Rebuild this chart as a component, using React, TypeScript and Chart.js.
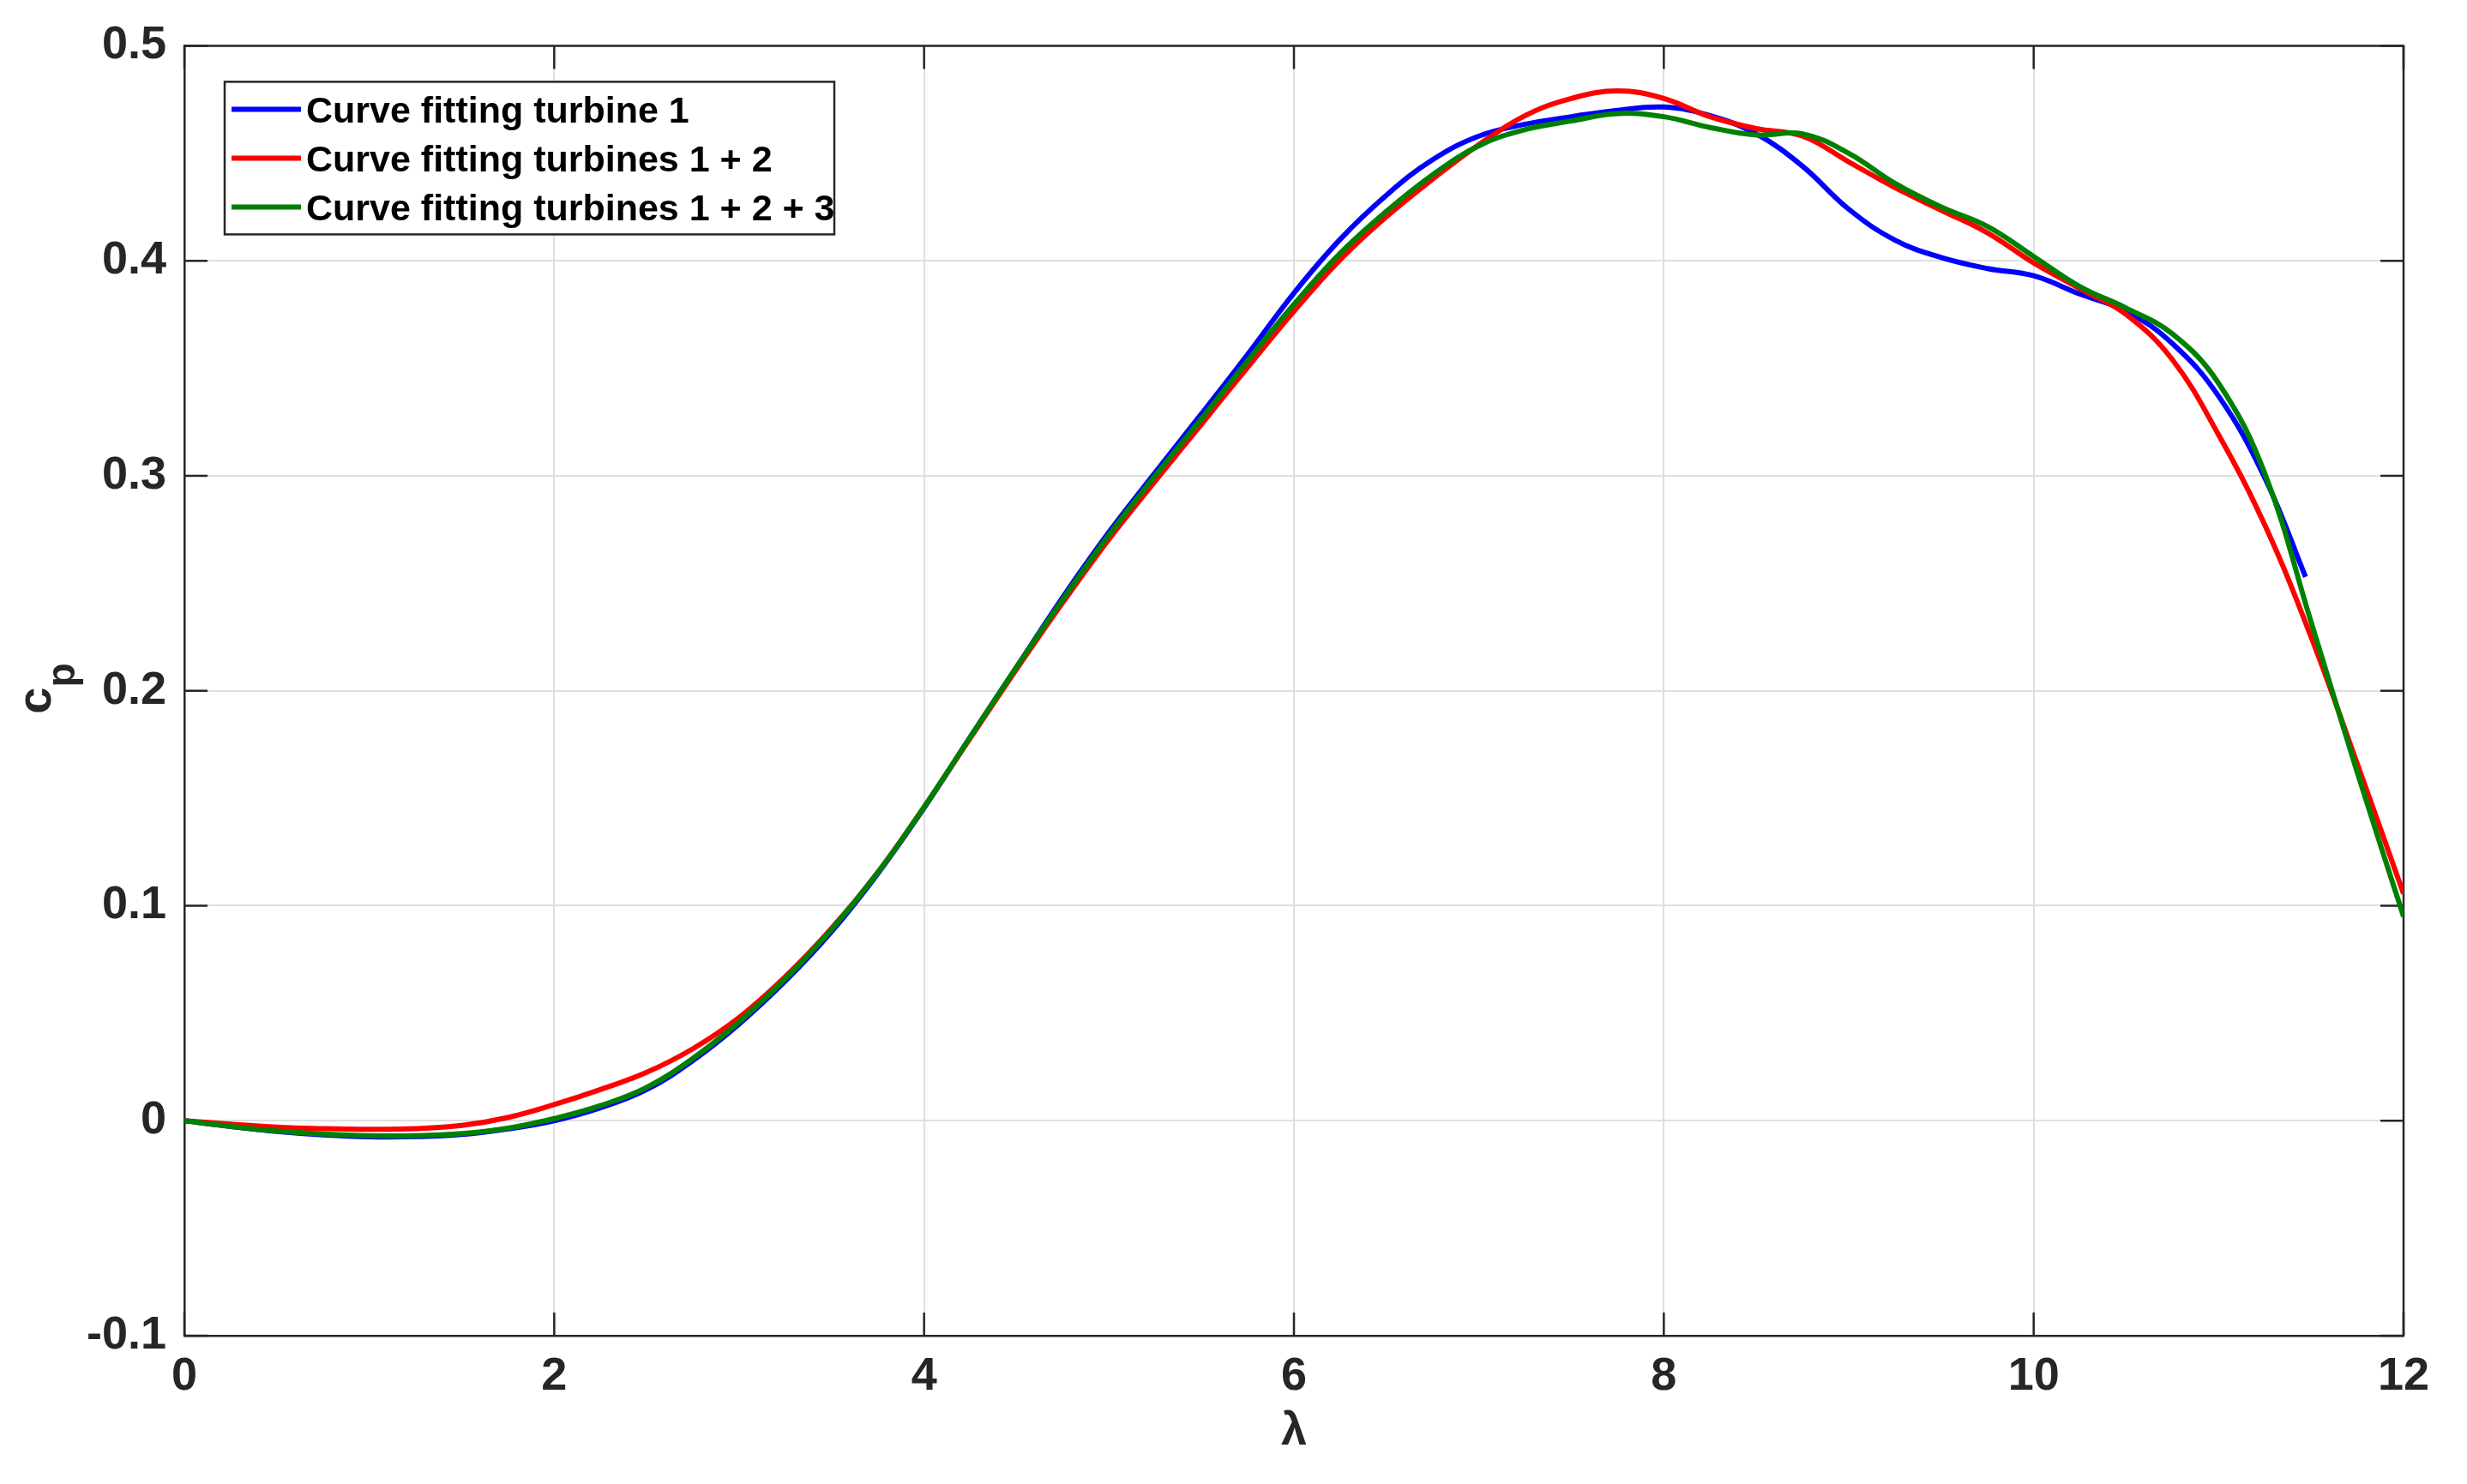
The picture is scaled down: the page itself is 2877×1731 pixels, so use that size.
import React, { useEffect, useRef } from "react";
import { Chart, registerables } from "chart.js";

Chart.register(...registerables);

// ---- data ----
const lambdaTicks = [0, 2, 4, 6, 8, 10, 12];
const cpTicks = [-0.1, 0, 0.1, 0.2, 0.3, 0.4, 0.5];

const seriesLabels = [
  "Curve fitting turbine 1",
  "Curve fitting turbines 1 + 2",
  "Curve fitting turbines 1 + 2 + 3",
];
const seriesColors = ["#0000ff", "#ff0000", "#008000"];

const lambda1 = [0, 0.25, 0.5, 0.75, 1, 1.25, 1.5, 1.75, 2, 2.25, 2.5, 2.75, 3, 3.25, 3.5, 3.75, 4, 4.25, 4.5, 4.75, 5, 5.25, 5.5, 5.75, 6, 6.25, 6.5, 6.75, 7, 7.25, 7.5, 7.75, 8, 8.25, 8.5, 8.75, 9, 9.25, 9.5, 9.75, 10, 10.25, 10.5, 10.75, 11, 11.25, 11.47];
const cp1 = [0, -0.0027, -0.005, -0.0066, -0.0075, -0.0074, -0.0064, -0.0038, 0.0, 0.006, 0.0145, 0.028, 0.045, 0.065, 0.088, 0.115, 0.1455, 0.1785, 0.211, 0.2435, 0.2738, 0.3015, 0.3288, 0.3565, 0.385, 0.41, 0.4305, 0.447, 0.458, 0.4635, 0.467, 0.47, 0.4715, 0.4675, 0.459, 0.444, 0.424, 0.4096, 0.4015, 0.3964, 0.393, 0.3845, 0.3765, 0.3615, 0.337, 0.299, 0.253];

const lambda12 = [0, 0.25, 0.5, 0.75, 1, 1.25, 1.5, 1.75, 2, 2.25, 2.5, 2.75, 3, 3.25, 3.5, 3.75, 4, 4.25, 4.5, 4.75, 5, 5.25, 5.5, 5.75, 6, 6.25, 6.5, 6.75, 7, 7.25, 7.5, 7.75, 8, 8.25, 8.5, 8.75, 9, 9.25, 9.5, 9.75, 10, 10.25, 10.5, 10.75, 11, 11.25, 11.5, 11.75, 12];
const cp12 = [0, -0.0016, -0.003, -0.0037, -0.004, -0.0037, -0.0022, 0.0015, 0.0075, 0.0145, 0.0225, 0.0335, 0.048, 0.067, 0.0895, 0.1155, 0.1459, 0.178, 0.21, 0.241, 0.2705, 0.2975, 0.324, 0.3505, 0.3765, 0.4005, 0.4205, 0.438, 0.454, 0.4675, 0.4755, 0.479, 0.4755, 0.467, 0.4615, 0.458, 0.446, 0.434, 0.4235, 0.413, 0.399, 0.387, 0.375, 0.354, 0.319, 0.277, 0.225, 0.166, 0.1056];

const lambda123 = [0, 0.25, 0.5, 0.75, 1, 1.25, 1.5, 1.75, 2, 2.25, 2.5, 2.75, 3, 3.25, 3.5, 3.75, 4, 4.25, 4.5, 4.75, 5, 5.25, 5.5, 5.75, 6, 6.25, 6.5, 6.75, 7, 7.25, 7.5, 7.75, 8, 8.25, 8.5, 8.75, 9, 9.25, 9.5, 9.75, 10, 10.25, 10.5, 10.75, 11, 11.25, 11.5, 11.75, 12];
const cp123 = [0, -0.0026, -0.0048, -0.0062, -0.007, -0.007, -0.006, -0.0035, 0.001, 0.007, 0.0155, 0.029, 0.046, 0.066, 0.089, 0.1155, 0.1459, 0.1785, 0.211, 0.2425, 0.2725, 0.3, 0.3265, 0.3535, 0.3797, 0.4035, 0.423, 0.44, 0.4535, 0.461, 0.465, 0.4685, 0.467, 0.462, 0.4585, 0.459, 0.45, 0.436, 0.425, 0.416, 0.402, 0.388, 0.378, 0.366, 0.343, 0.301, 0.232, 0.162, 0.095];

const xTitle = "λ";
const yTitleMain = "c";
const yTitleSub = "p";

// ---- styling ----
const FONT = "'Liberation Sans', Arial, Helvetica, sans-serif";
const AXIS_COLOR = "#262626";
const GRID_COLOR = "#dfdfdf";

function toPoints(xs: number[], ys: number[]) {
  return xs.map((x, i) => ({ x, y: ys[i] }));
}

const matlabAxesPlugin = {
  id: "matlabAxes",
  beforeDatasetsDraw(chart: any) {
    const { ctx, chartArea } = chart;
    const xs = chart.scales.x;
    const ys = chart.scales.y;
    const { left, right, top, bottom } = chartArea;
    const tl = 27;
    ctx.save();
    ctx.strokeStyle = AXIS_COLOR;
    ctx.lineWidth = 2.5;
    ctx.beginPath();
    ctx.moveTo(left, top);
    ctx.lineTo(right, top);
    ctx.lineTo(right, bottom);
    ctx.stroke();
    ctx.beginPath();
    lambdaTicks.forEach((v) => {
      const px = xs.getPixelForValue(v);
      ctx.moveTo(px, bottom);
      ctx.lineTo(px, bottom - tl);
      ctx.moveTo(px, top);
      ctx.lineTo(px, top + tl);
    });
    cpTicks.forEach((v) => {
      const py = ys.getPixelForValue(v);
      ctx.moveTo(left, py);
      ctx.lineTo(left + tl, py);
      ctx.moveTo(right, py);
      ctx.lineTo(right - tl, py);
    });
    ctx.stroke();
    ctx.restore();
  },
  afterDraw(chart: any) {
    const { ctx, chartArea } = chart;
    const { left, right, top, bottom } = chartArea;
    ctx.save();
    ctx.fillStyle = AXIS_COLOR;
    ctx.font = `bold 54px ${FONT}`;
    ctx.textAlign = "center";
    ctx.textBaseline = "alphabetic";
    ctx.fillText(xTitle, (left + right) / 2, bottom + 127);
    const midY = (top + bottom) / 2;
    ctx.translate(left - 156, midY + 27);
    ctx.rotate(-Math.PI / 2);
    ctx.textAlign = "left";
    ctx.font = `bold 56px ${FONT}`;
    ctx.fillText(yTitleMain, 0, 0);
    const w = ctx.measureText(yTitleMain).width;
    ctx.font = `bold 46px ${FONT}`;
    ctx.fillText(yTitleSub, w, 28);
    ctx.restore();

    ctx.save();
    const bx = left + 47;
    const by = top + 42;
    const bw = 711;
    const bh = 178;
    ctx.fillStyle = "#ffffff";
    ctx.fillRect(bx, by, bw, bh);
    ctx.strokeStyle = AXIS_COLOR;
    ctx.lineWidth = 2.5;
    ctx.strokeRect(bx, by, bw, bh);
    ctx.font = `bold 43px ${FONT}`;
    ctx.textAlign = "left";
    ctx.textBaseline = "alphabetic";
    seriesLabels.forEach((label, i) => {
      const ry = by + 32 + i * 57;
      ctx.strokeStyle = seriesColors[i];
      ctx.lineWidth = 6;
      ctx.beginPath();
      ctx.moveTo(bx + 8, ry);
      ctx.lineTo(bx + 89, ry);
      ctx.stroke();
      ctx.fillStyle = "#000000";
      ctx.fillText(label, bx + 95, ry + 16);
    });
    ctx.restore();
  },
};

export default function App() {
  const canvasRef = useRef<HTMLCanvasElement | null>(null);

  useEffect(() => {
    if (!canvasRef.current) return;
    const seriesX = [lambda1, lambda12, lambda123];
    const seriesY = [cp1, cp12, cp123];
    const chart = new Chart(canvasRef.current, {
      type: "line",
      data: {
        datasets: seriesLabels.map((label, i) => ({
          label,
          data: toPoints(seriesX[i], seriesY[i]),
          borderColor: seriesColors[i],
          backgroundColor: seriesColors[i],
          borderWidth: 6,
          pointRadius: 0,
          fill: false,
          tension: 0.4,
          order: 3 - i,
        })),
      },
      options: {
        animation: false,
        responsive: true,
        maintainAspectRatio: false,
        layout: { padding: { top: 52, right: 74, left: 0, bottom: 0 } },
        plugins: {
          legend: { display: false },
          tooltip: { enabled: false },
        },
        scales: {
          x: {
            type: "linear",
            min: 0,
            max: 12,
            afterBuildTicks: (s: any) => {
              s.ticks = lambdaTicks.map((v) => ({ value: v }));
            },
            afterFit: (s: any) => {
              s.height = 173;
            },
            ticks: {
              color: AXIS_COLOR,
              font: { family: FONT, size: 54, weight: "bold" },
              padding: 16,
              maxRotation: 0,
              callback: (v: any) => String(v),
            },
            grid: { color: GRID_COLOR, lineWidth: 2, drawTicks: false },
            border: { display: true, color: AXIS_COLOR, width: 2.5 },
          },
          y: {
            type: "linear",
            min: -0.1,
            max: 0.5,
            afterBuildTicks: (s: any) => {
              s.ticks = cpTicks.map((v) => ({ value: v }));
            },
            afterFit: (s: any) => {
              s.width = 215;
            },
            ticks: {
              color: AXIS_COLOR,
              font: { family: FONT, size: 54, weight: "bold" },
              padding: 21,
              callback: (v: any) => (Math.abs(Number(v)) < 1e-9 ? "0" : Number(v).toFixed(1)),
            },
            grid: { color: GRID_COLOR, lineWidth: 2, drawTicks: false },
            border: { display: true, color: AXIS_COLOR, width: 2.5 },
          },
        },
      },
      plugins: [matlabAxesPlugin],
    });
    return () => chart.destroy();
  }, []);

  return (
    <div style={{ position: "fixed", left: 0, top: 0, width: "2877px", height: "1731px", background: "#ffffff" }}>
      <canvas ref={canvasRef} />
    </div>
  );
}
